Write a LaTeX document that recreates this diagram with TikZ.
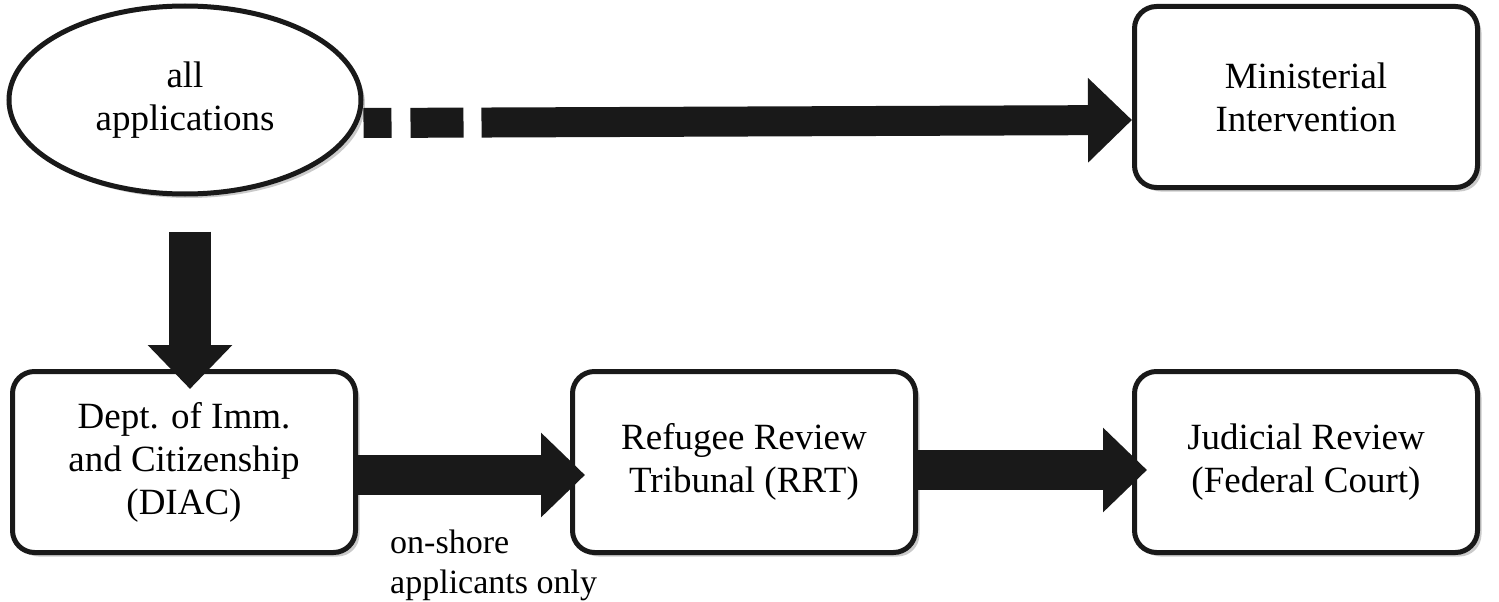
\documentclass[tikz,border=0pt]{standalone}
\usepackage{fontspec}
\setmainfont{Liberation Serif}
\usetikzlibrary{arrows.meta,shapes.geometric,shadows}
\begin{document}
\begin{tikzpicture}[x=1pt,y=-1pt,
  box/.style={draw=black!90,line width=5pt,rounded corners=22pt,fill=white,
    minimum width=343pt,minimum height=181pt,align=center,
    font=\fontsize{37}{43}\selectfont,
    drop shadow={shadow xshift=4pt,shadow yshift=-4pt,fill=black!35,opacity=.6}},
  arr/.style={line width=#1,draw=black!90},
  tipA/.style={-{Triangle[length=44pt,width=82pt]}}]
\useasboundingbox (0,0) rectangle (1499,602);
\node[box,ellipse,rounded corners=0pt,minimum width=352pt,minimum height=188pt,inner sep=0pt] (ell) at (185,100) {all\\applications};
\node[box] (min) at (1306,97) {Ministerial\\Intervention};
\node[box] (diac) at (184,462) {Dept. of Imm.\\and Citizenship\\(DIAC)};
\node[box] (rrt) at (744,462) {Refugee Review\\Tribunal (RRT)};
\node[box] (jud) at (1306,462) {Judicial Review\\(Federal Court)};
\draw[arr=30pt,tipA,dash pattern=on 28pt off 19pt on 53pt off 18pt on 900pt]
  ([yshift=-23pt]ell.east) -- ([yshift=-23pt]min.west);
\draw[arr=42pt,tipA,shorten <=35pt] ([xshift=5pt]ell.south) -- ([shift={(6pt,-20pt)}]diac.north);
\draw[arr=40pt,tipA] ([yshift=-13pt]diac.east) -- ([shift={(15pt,-13pt)}]rrt.west);
\draw[arr=40pt,tipA] ([yshift=-8pt]rrt.east) -- ([shift={(15pt,-8pt)}]jud.west);
\node[align=left,anchor=north west,font=\fontsize{34}{40}\selectfont,inner sep=0pt] (lab) at (390,530) {on-shore\\applicants only};
\end{tikzpicture}
\end{document}
